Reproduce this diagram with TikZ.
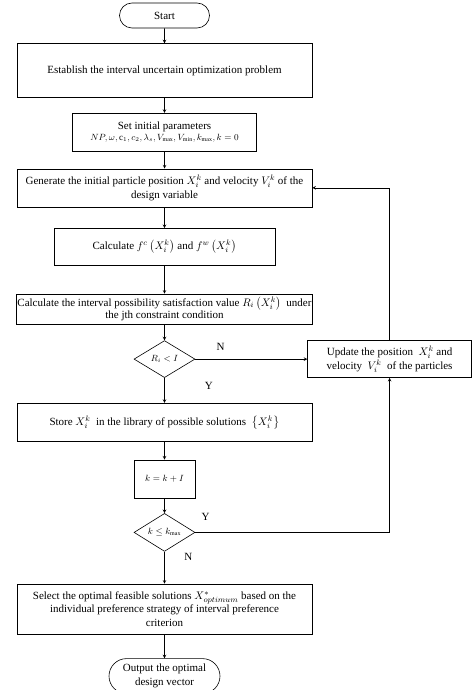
\documentclass[tikz,border=0pt]{standalone}
\usepackage{amsmath,amssymb}
\usepackage{fontspec}
\setmainfont{Liberation Serif}
\usepackage{tikz}
\usetikzlibrary{shapes.geometric, shapes.misc, arrows, positioning}
\tikzstyle{terminal} = [rounded rectangle, draw=black, text centered, align=center, inner sep=1pt]
\tikzstyle{process} = [rectangle, draw=black, text centered, align=center, inner sep=1pt]
\tikzstyle{decision} = [diamond, draw=black, aspect=1.65, inner sep=0pt, minimum width=61pt, minimum height=37pt, font=\fontsize{9}{10}\selectfont]
\tikzstyle{answer} = [inner sep=0pt]
\tikzstyle{arrow} = [->,>=stealth]
\begin{document}
\begin{tikzpicture}[line width=0.6pt, font=\fontsize{11}{13.5}\selectfont]
\useasboundingbox (0,0) rectangle (474pt,-690pt);

% Start and set-up
\node[terminal, minimum width=92pt, minimum height=25pt] (start) at (164.5pt,-15.5pt) {Start};
\node[process, below=15pt of start, minimum width=295pt, minimum height=54pt] (problem) {Establish the interval uncertain optimization problem};
\node[process, below=15pt of problem, minimum width=184pt, minimum height=38pt] (param) {Set initial parameters\\[-2pt]
  {\fontsize{9}{10}\selectfont $NP,\omega,\mathrm{c}_1,c_2,\lambda_s,V_{\max},V_{\min},k_{\max},k=0$}};

% Particle initialisation and evaluation
\node[process, below=17pt of param, minimum width=295pt, minimum height=38pt] (generate) {Generate the initial particle position $X_i^k$ and velocity $V_i^k$ of the\\design variable};
\node[process, below=21pt of generate, minimum width=221pt, minimum height=37pt] (fitness) {Calculate $f^c\left(X_i^k\right)$ and $f^w\left(X_i^k\right)$};
\node[process, below=28pt of fitness, minimum width=295pt, minimum height=30pt] (possib) {Calculate the interval possibility satisfaction value $R_i\left(X_i^k\right)$\enspace under\\[-1pt]the jth constraint condition};

% Feasibility check
\node[decision, below=16pt of possib] (feasible) {$R_i<I$};
\node[process, right=112pt of feasible, minimum width=164pt, minimum height=37pt] (update) {Update the position\enspace $X_i^k$ and\\velocity\enspace $V_i^k$\enspace of the particles};
\node[process, below=25pt of feasible, minimum width=295pt, minimum height=38pt] (store) {Store $X_i^k$\enspace in the library of possible solutions\enspace $\left\{X_i^k\right\}$};

% Iteration
\node[process, below=18pt of store, minimum width=61pt, minimum height=38pt, font=\fontsize{9.5}{11}\selectfont] (counter) {$k=k+I$};
\node[decision, minimum height=38pt, below=15pt of counter] (stopcheck) {$k\le k_{\max}$};

% Output
\node[process, below=32pt of stopcheck, minimum width=295pt, minimum height=50pt] (select) {Select the optimal feasible solutions $X^*_{optimum}$ based on the\\individual preference strategy of interval preference\\criterion};
\node[terminal, below=24pt of select, minimum width=113pt, minimum height=35pt] (output) {Output the optimal\\design vector};

% Arrows
\draw[arrow] (start) -- (problem);
\draw[arrow] (problem) -- (param);
\draw[arrow] (param) -- (generate);
\draw[arrow] (generate) -- (fitness);
\draw[arrow] (fitness) -- (possib);
\draw[arrow] (possib) -- (feasible);
\draw[arrow] (feasible) -- (store);
\draw[arrow] (feasible) -- (update);
\draw[arrow] (store) -- (counter);
\draw[arrow] (counter) -- (stopcheck);
\draw[arrow] (stopcheck) -- (select);
\draw[arrow] (select) -- (output);
\draw[arrow] (stopcheck) -| (update);
\draw[arrow] (update) |- (generate);

% Labels
\node[answer, above right=8pt and 21pt of feasible.east] {N};
\node[answer, below right=4pt and 40pt of feasible.south] {Y};
\node[answer, above right=12pt and 6pt of stopcheck.east] {Y};
\node[answer, below right=1pt and 19.5pt of stopcheck.south] {N};

\end{tikzpicture}
\end{document}
